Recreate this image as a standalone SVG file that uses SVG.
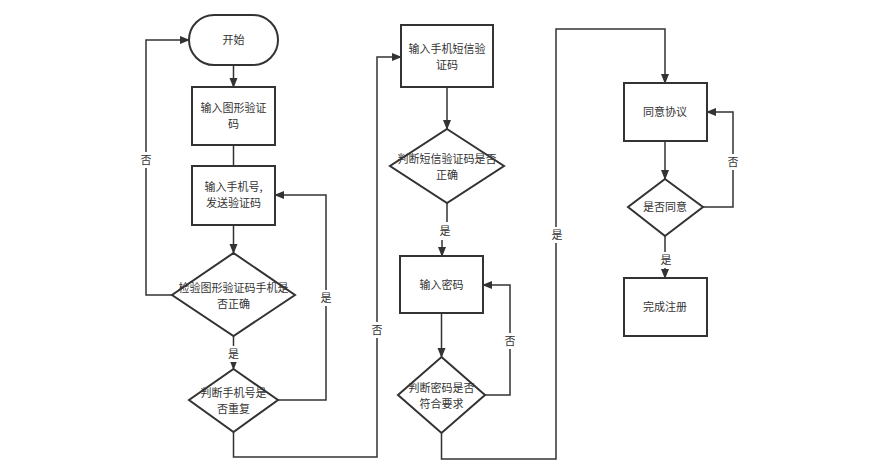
<svg xmlns="http://www.w3.org/2000/svg" width="874" height="468" viewBox="0 0 874 468">
<style>
.s{fill:#fff;stroke:#333;stroke-width:2}
.c{fill:none;stroke:#333;stroke-width:1.5}
text{font-family:"Noto Sans CJK SC","Liberation Sans",sans-serif;font-size:11px;fill:#333;text-anchor:middle}
.lb{fill:#fff;stroke:none}
</style>
<defs><marker id="a" markerWidth="10" markerHeight="10" refX="9" refY="5" orient="auto" markerUnits="userSpaceOnUse"><path d="M0,1 L10,5 L0,9 Z" fill="#333"/></marker></defs>
<rect width="874" height="468" fill="#fff"/>
<g id="connectors">
<path class="c" d="M233.5,65 V87" marker-end="url(#a)"/>
<path class="c" d="M233.5,145 V166"/>
<path class="c" d="M233.5,225 V253" marker-end="url(#a)"/>
<path class="c" d="M233.5,336 V369" marker-end="url(#a)"/>
<path class="c" d="M172,295 H146 V40 H189" marker-end="url(#a)"/>
<path class="c" d="M278,400 H326 V195 H275" marker-end="url(#a)"/>
<path class="c" d="M233.5,432 V457 H377 V57 H401" marker-end="url(#a)"/>
<path class="c" d="M447,87 V129" marker-end="url(#a)"/>
<path class="c" d="M447,203 V222"/>
<path class="c" d="M442,240 V256" marker-end="url(#a)"/>
<path class="c" d="M441.5,313 V357" marker-end="url(#a)"/>
<path class="c" d="M485,395 H510 V285 H483" marker-end="url(#a)"/>
<path class="c" d="M441.5,433 V459 H556 V29 H665 V83" marker-end="url(#a)"/>
<path class="c" d="M665,141 V179" marker-end="url(#a)"/>
<path class="c" d="M703,207 H733 V112 H707" marker-end="url(#a)"/>
<path class="c" d="M665,236 V278" marker-end="url(#a)"/>
<rect class="lb" x="139" y="152" width="14" height="16"/><text x="146" y="164">否</text>
<rect class="lb" x="319" y="290" width="14" height="16"/><text x="326" y="302">是</text>
<rect class="lb" x="226" y="346" width="14" height="16"/><text x="233.5" y="358">是</text>
<rect class="lb" x="370" y="322" width="14" height="16"/><text x="377" y="334">否</text>
<rect class="lb" x="438" y="223" width="14" height="16"/><text x="445" y="235">是</text>
<rect class="lb" x="503" y="333" width="14" height="16"/><text x="510" y="345">否</text>
<rect class="lb" x="550" y="227" width="14" height="16"/><text x="557" y="239">是</text>
<rect class="lb" x="726" y="154" width="14" height="16"/><text x="733" y="166">否</text>
<rect class="lb" x="659" y="252" width="14" height="16"/><text x="666" y="264">是</text>
</g>
<g id="start"><rect class="s" x="189" y="15" width="89" height="50" rx="25"/><text x="233.5" y="44">开始</text></g>
<g id="n1"><rect class="s" x="192" y="87" width="83" height="58"/><text x="233.5" y="112">输入图形验证</text><text x="233.5" y="128">码</text></g>
<g id="n2"><rect class="s" x="192" y="166" width="83" height="59"/><text x="233.5" y="191">输入手机号,</text><text x="233.5" y="207">发送验证码</text></g>
<g id="d1"><polygon class="s" points="233.5,253 295,295 233.5,336 172,295"/><text x="233.5" y="292">检验图形验证码手机是</text><text x="233.5" y="308">否正确</text></g>
<g id="d2"><polygon class="s" points="233.5,369 278,400 233.5,432 189,400"/><text x="233.5" y="397">判断手机号是</text><text x="233.5" y="413">否重复</text></g>
<g id="n3"><rect class="s" x="401" y="25" width="92" height="62"/><text x="447" y="53">输入手机短信验</text><text x="447" y="69">证码</text></g>
<g id="d3"><polygon class="s" points="447,129 504,166 447,203 390,166"/><text x="447" y="163">判断短信验证码是否</text><text x="447" y="179">正确</text></g>
<g id="n4"><rect class="s" x="400" y="256" width="83" height="57"/><text x="441.5" y="289">输入密码</text></g>
<g id="d4"><polygon class="s" points="441.5,357 485,395 441.5,433 398,395"/><text x="441.5" y="392">判断密码是否</text><text x="441.5" y="408">符合要求</text></g>
<g id="n5"><rect class="s" x="624" y="83" width="83" height="58"/><text x="665" y="116">同意协议</text></g>
<g id="d5"><polygon class="s" points="665,179 703,207 665,236 628,207"/><text x="665" y="211">是否同意</text></g>
<g id="n6"><rect class="s" x="624" y="278" width="83" height="58"/><text x="665" y="311">完成注册</text></g>
</svg>
